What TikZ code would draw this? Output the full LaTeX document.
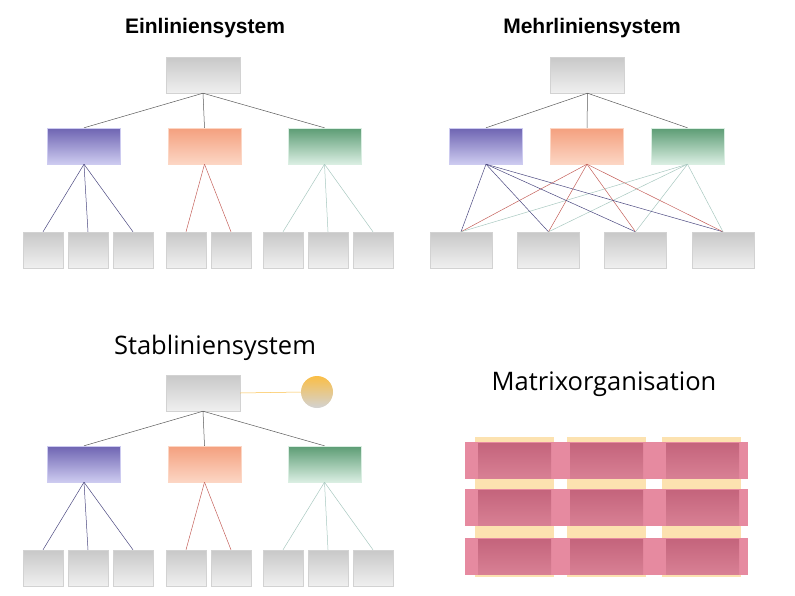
\documentclass[tikz,border=0pt]{standalone}
\usepackage{fontspec}
\setmainfont{Open Sans}
\newfontfamily\boldsans{Liberation Sans}
\usetikzlibrary{positioning}
\definecolor{boxgray}{RGB}{200,200,200}
\definecolor{lilac}{RGB}{110,100,178}
\definecolor{lilaclight}{RGB}{205,203,240}
\definecolor{apricot}{RGB}{244,160,126}
\definecolor{apricotlight}{RGB}{252,214,196}
\definecolor{sage}{RGB}{92,156,116}
\definecolor{sagelight}{RGB}{218,238,226}
\definecolor{lilacline}{RGB}{75,72,128}
\definecolor{apricotline}{RGB}{196,96,90}
\definecolor{sageline}{RGB}{168,200,192}
\definecolor{rosebar}{RGB}{230,138,160}
\definecolor{rosedark}{RGB}{196,100,124}
\definecolor{roselight}{RGB}{216,128,148}
\definecolor{sand}{RGB}{252,226,176}
\definecolor{sun}{RGB}{250,190,70}
\begin{document}
\begin{tikzpicture}[x=1pt, y=-1pt,
		gbox/.style={draw=gray!35, line width=0.4pt, top color=boxgray, bottom color=gray!12, minimum height=36pt, inner sep=0pt},
		top/.style={gbox, minimum width=74pt},
		leaf/.style={gbox, minimum width=40pt},
		wideleaf/.style={gbox, minimum width=62pt},
		unitA/.style={draw=lilaclight, top color=lilac, bottom color=lilaclight, minimum width=73pt, minimum height=36pt, inner sep=0pt},
		unitB/.style={draw=apricotlight, top color=apricot, bottom color=apricotlight, minimum width=73pt, minimum height=36pt, inner sep=0pt},
		unitC/.style={draw=sagelight, top color=sage, bottom color=sagelight, minimum width=73pt, minimum height=36pt, inner sep=0pt},
		headline/.style={font=\boldsans\bfseries\fontsize{21}{24}\selectfont},
		title/.style={font=\fontsize{25.5}{28}\selectfont},
		link/.style={line width=0.5pt, color=gray!70!black},
		]
		\useasboundingbox (0,0) rectangle (795,595);
		
		% Einliniensystem
		\node[headline] (t1) at (205,28) {Einliniensystem};
		\node[top] (a0) at (203,75) {};
		\node[unitA] (a1) at (84,146) {};
		\node[unitB] (a2) at (204.5,146) {};
		\node[unitC] (a3) at (324.5,146) {};
		\foreach \i/\x in {1/43,2/88,3/133,4/186,5/231,6/283,7/328,8/373}
			\node[leaf] (al\i) at (\x,250) {};
		\foreach \m in {a1,a2,a3}
			\draw[link] (a0.south) -- (\m.north);
		\foreach \l in {al1,al2,al3} \draw[line width=0.5pt, lilacline] (a1.south) -- (\l.north);
		\foreach \l in {al4,al5} \draw[line width=0.5pt, apricotline] (a2.south) -- (\l.north);
		\foreach \l in {al6,al7,al8} \draw[line width=0.5pt, sageline] (a3.south) -- (\l.north);
		
		% Mehrliniensystem
		\node[headline] (t2) at (592,28) {Mehrliniensystem};
		\node[top] (b0) at (587.5,75) {};
		\node[unitA] (b1) at (486,146) {};
		\node[unitB] (b2) at (587,146) {};
		\node[unitC] (b3) at (687.5,146) {};
		\foreach \i/\x in {1/461,2/548.5,3/635.5,4/723}
			\node[wideleaf] (bl\i) at (\x,250) {};
		\foreach \m in {b1,b2,b3}
			\draw[link] (b0.south) -- (\m.north);
		\foreach \l in {bl1,bl2,bl3,bl4}{
			\draw[line width=0.5pt, lilacline] (b1.south) -- (\l.north);
			\draw[line width=0.5pt, apricotline] (b2.south) -- (\l.north);
			\draw[line width=0.5pt, sageline] (b3.south) -- (\l.north);
		}
		
		% Stabliniensystem
		\node[title] (t3) at (215,348) {Stabliniensystem};
		\node[top] (c0) at (203,393) {};
		\node[circle, minimum size=32pt, inner sep=0pt, top color=sun, bottom color=gray!35] (staff) at (317,392) {};
		\draw[line width=0.5pt, sun] (c0.east) -- (staff.west);
		\node[unitA] (c1) at (84,464) {};
		\node[unitB] (c2) at (204.5,464) {};
		\node[unitC] (c3) at (324.5,464) {};
		\foreach \i/\x in {1/43,2/88,3/133,4/186,5/231,6/283,7/328,8/373}
			\node[leaf] (cl\i) at (\x,568) {};
		\foreach \m in {c1,c2,c3}
			\draw[link] (c0.south) -- (\m.north);
		\foreach \l in {cl1,cl2,cl3} \draw[line width=0.5pt, lilacline] (c1.south) -- (\l.north);
		\foreach \l in {cl4,cl5} \draw[line width=0.5pt, apricotline] (c2.south) -- (\l.north);
		\foreach \l in {cl6,cl7,cl8} \draw[line width=0.5pt, sageline] (c3.south) -- (\l.north);
		
		% Matrixorganisation
		\node[title] (t4) at (604,384) {Matrixorganisation};
		\foreach \j/\x in {1/514,2/606.5,3/701.5}
			\node[fill=sand, minimum width=79pt, minimum height=140pt, inner sep=0pt] (col\j) at (\x,507) {};
		\foreach \i/\y in {1/460.5,2/507.5,3/556.5}{
			\node[fill=rosebar, minimum width=283pt, minimum height=37pt, inner sep=0pt] (row\i) at (606.5,\y) {};
			\foreach \j/\x in {1/514.5,2/606.5,3/702.5}
				\node[top color=rosedark, bottom color=roselight, minimum width=73pt, minimum height=35pt, inner sep=0pt] (cell\i\j) at (\x,\y) {};
		}
		
\end{tikzpicture}
\end{document}
